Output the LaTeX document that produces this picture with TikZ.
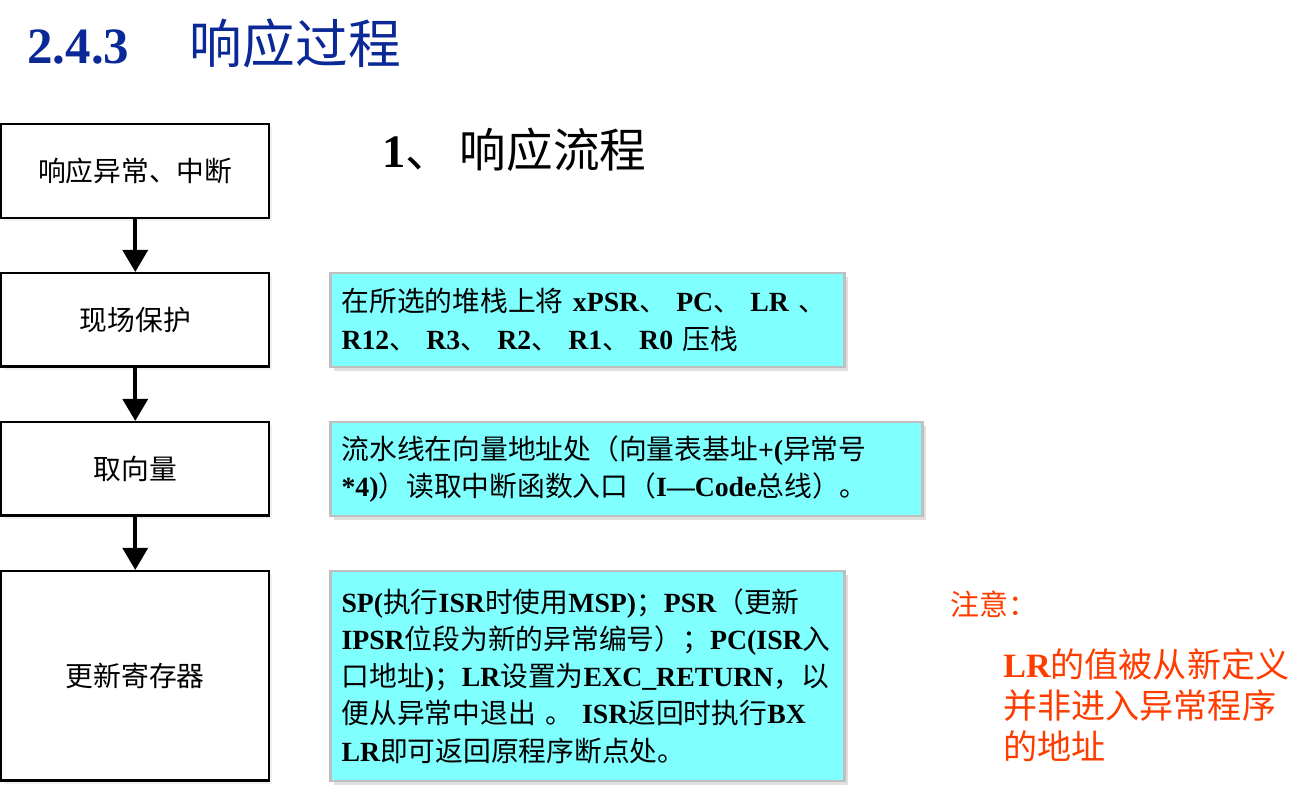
\documentclass[tikz,border=0pt]{standalone}
\usepackage{fontspec}
\setmainfont{Liberation Serif}
\newfontfamily\zhfont{Noto Sans CJK SC}
\newcommand{\lb}[1]{{\rmfamily\bfseries #1}}
\usetikzlibrary{positioning,arrows.meta,shadows}
\definecolor{titleblue}{HTML}{0A2896}
\definecolor{notecyan}{HTML}{80FFFF}
\definecolor{noteedge}{HTML}{BFBFBF}
\definecolor{warnred}{HTML}{FF3C00}
\tikzset{
    flowbox/.style={draw, line width=1.4pt, fill=white, minimum width=5.36cm,
        minimum height=1.87cm, font=\zhfont\fontsize{15.8}{21}\selectfont,
        drop shadow={opacity=0.12, shadow xshift=0.05cm, shadow yshift=-0.06cm}},
    notebox/.style={draw=noteedge, line width=1.2pt, fill=notecyan, align=left,
        inner xsep=0.22cm, minimum height=1.87cm,
        font=\zhfont\fontsize{15.8}{21.2}\selectfont,
        drop shadow={opacity=0.25, shadow xshift=0.06cm, shadow yshift=-0.08cm}},
    flowarrow/.style={line width=2pt, -{Triangle[width=0.5cm, length=0.44cm]}},
    plaintext/.style={inner sep=0pt, anchor=base west}
}
\begin{document}
\begin{tikzpicture}
\useasboundingbox (0,0) rectangle (26.24,-15.7);

\node[plaintext, text=titleblue, font=\fontsize{29}{34}\selectfont\bfseries]
    (secnum) at (0.54,-1.26) {2.4.3};
\node[plaintext, base right=1.2cm of secnum, text=titleblue,
    font=\zhfont\fontsize{30}{36}\selectfont] (sectitle) {响应过程};
\node[plaintext, font=\zhfont\fontsize{26.5}{31}\selectfont]
    (subtitle) at (7.64,-3.34) {\lb{1}、\,响应流程};

\node[flowbox] (respond) at (2.705,-3.42) {响应异常、中断};
\node[flowbox, below=1.06cm of respond] (protect) {现场保护};
\node[flowbox, below=1.06cm of protect] (fetch) {取向量};
\node[flowbox, below=1.06cm of fetch, minimum height=4.19cm] (update) {更新寄存器};

\draw[flowarrow] (respond) -- (protect);
\draw[flowarrow] (protect) -- (fetch);
\draw[flowarrow] (fetch) -- (update);

\node[notebox, text width=9.84cm, right=1.18cm of protect] (stack) {%
在所选的堆栈上将 \lb{xPSR}、 \lb{PC}、 \lb{LR} 、\\
\lb{R12}、 \lb{R3}、 \lb{R2}、 \lb{R1}、 \lb{R0} 压栈};
\node[notebox, text width=11.4cm, right=1.18cm of fetch] (vector) {%
流水线在向量地址处（向量表基址\lb{+(}异常号\\
\lb{*4)}）读取中断函数入口（\lb{I—Code}总线）。};
\node[notebox, text width=9.84cm, right=1.18cm of update, minimum height=4.19cm] (regs) {%
\lb{SP(}执行\lb{ISR}时使用\lb{MSP)}；\lb{PSR}（更新\\
\lb{IPSR}位段为新的异常编号）；\lb{PC(ISR}入\\
口地址\lb{)}；\lb{LR}设置为\lb{EXC\_RETURN}，以\\
便从异常中退出 。 \lb{ISR}返回时执行\lb{BX}\\
\lb{LR}即可返回原程序断点处。};

\node[plaintext, text=warnred, font=\zhfont\fontsize{16.5}{20}\selectfont]
    (warnhead) at (19.0,-12.3) {注意：};
\node[plaintext, text=warnred, align=left, font=\zhfont\fontsize{19.4}{23.3}\selectfont]
    (warntext) at (20.06,-15.18) {\lb{LR}的值被从新定义\\并非进入异常程序\\的地址};
\end{tikzpicture}
\end{document}
